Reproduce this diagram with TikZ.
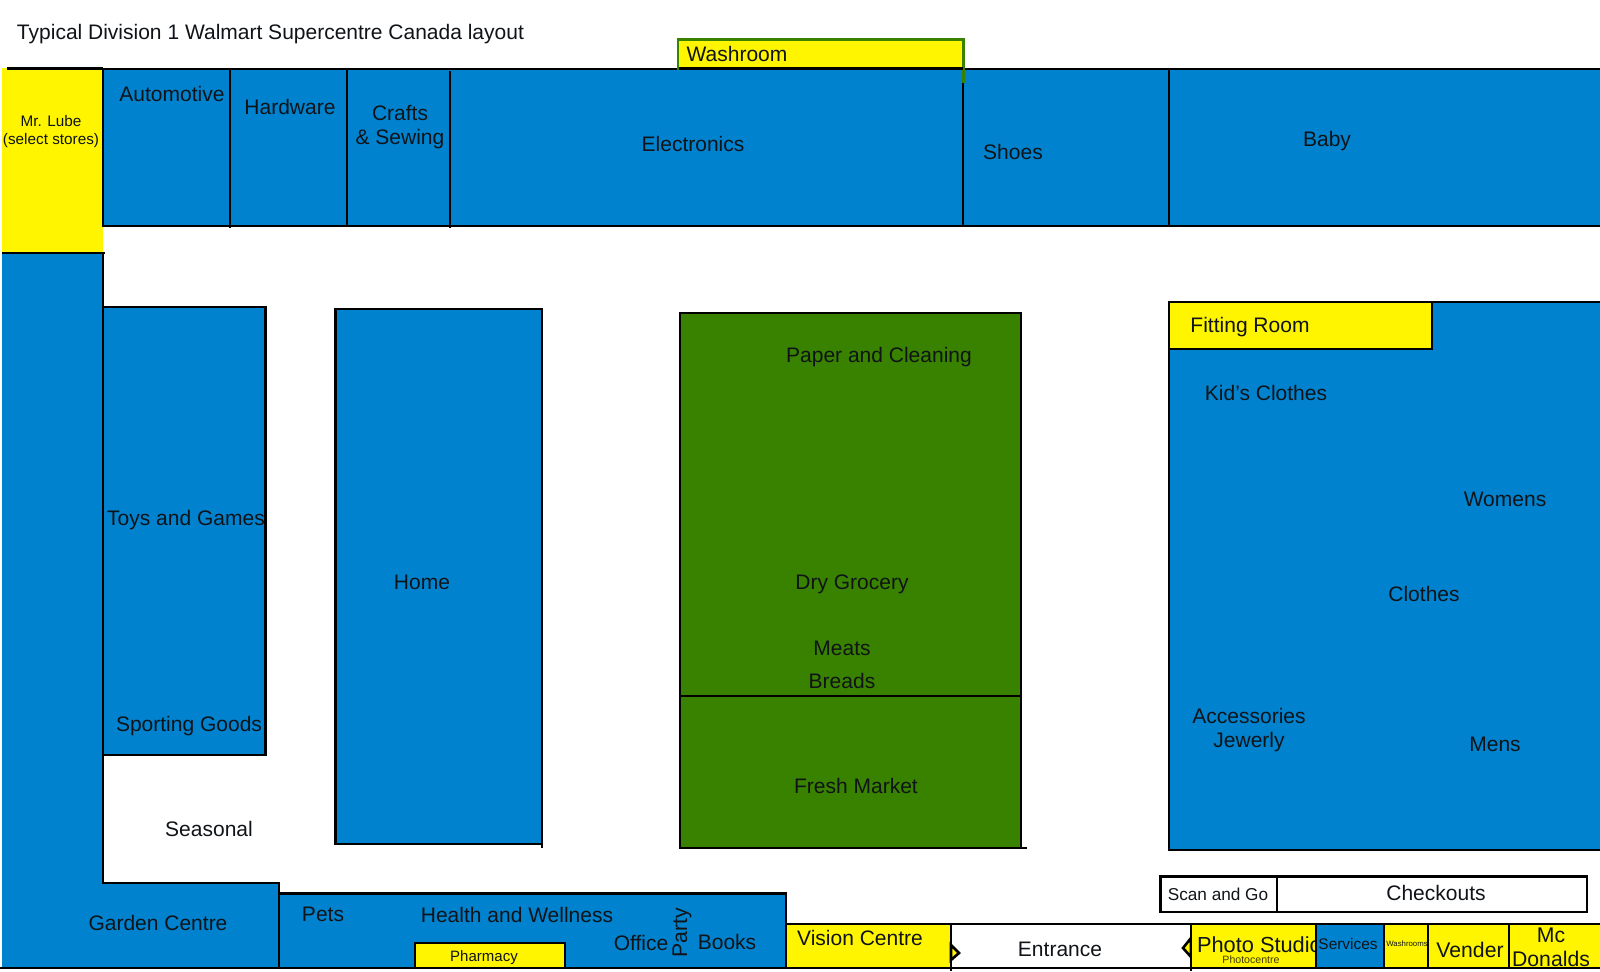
\documentclass[tikz,border=0pt]{standalone}
\usepackage{fontspec}
\setmainfont{Liberation Sans}
\definecolor{wblue}{HTML}{0082CE}
\definecolor{wgreen}{HTML}{388200}
\definecolor{wyellow}{HTML}{FFF500}
\definecolor{winkd}{HTML}{101418}
\tikzset{
  zone/.style={draw=black,line width=1.2pt,miter limit=2},
  bluezone/.style={zone,fill=wblue},
  greenzone/.style={zone,fill=wgreen},
  yellowzone/.style={zone,fill=wyellow},
  whitezone/.style={zone,fill=white},
  rule/.style={draw=black,line width=1.1pt},
  lab/.style={inner sep=0pt,outer sep=0pt,text=winkd,font=\fontsize{10.5}{11.8}\selectfont,align=center},
  labm/.style={lab,font=\fontsize{8.6}{10}\selectfont},
  labsv/.style={lab,font=\fontsize{7.7}{9}\selectfont},
  labs/.style={lab,font=\fontsize{7.5}{9}\selectfont},
  labt/.style={lab,font=\fontsize{5.3}{6}\selectfont},
  labxs/.style={lab,font=\fontsize{3.9}{5}\selectfont},
  labl/.style={lab,font=\fontsize{10.9}{12.4}\selectfont},
  labv/.style={lab,font=\fontsize{10.6}{12}\selectfont}
}
\begin{document}
\begin{tikzpicture}[x=0.5pt,y=-0.5pt]
\useasboundingbox (0,0) rectangle (1600,971);
\fill[white] (0,0) rectangle (1600,971);
% left / garden
\fill[wblue] (2,253) rectangle (103,968);
\fill[wblue] (2,883) rectangle (279,968);
\draw[rule] (103,253) -- (103,883) -- (279,883) -- (279,968);
% Mr Lube
\fill[wyellow] (2,68) rectangle (103,253);
\draw[rule] (7,68.5) -- (103,68.5);
\draw[rule] (2,253) -- (105,253);
% top band
\path[bluezone] (103,69) rectangle (1604,226);
\draw[rule] (230,69) -- (230,228);
\draw[rule] (347,69) -- (347,226);
\draw[rule] (450,71) -- (450,228);
\draw[rule] (963,83) -- (963,226);
\draw[rule] (1169,69) -- (1169,226);
% washroom
\fill[wyellow] (678,39.5) rectangle (963.5,68);
\draw[draw=wgreen,line width=1.1pt] (678,70) -- (678,39.5) -- (963.5,39.5) -- (963.5,83);
\draw[rule] (679,68.5) -- (962.5,68.5);
% blocks
\path[bluezone] (103,307) rectangle (265.5,755);
\path[bluezone] (335.5,309) rectangle (542,844);
\draw[rule] (542,844) -- (542,848);
\path[greenzone] (680,313) rectangle (1021,848);
\draw[rule] (1021,848) -- (1027,848);
\draw[rule] (680,696) -- (1021,696);
\path[bluezone] (1169,302) rectangle (1604,850);
\path[yellowzone] (1169,302) rectangle (1432,349);
% bottom strip
\path[bluezone] (279,893.5) rectangle (786,968);
\path[yellowzone] (415,943) rectangle (565,968);
\path[yellowzone] (786,924) rectangle (951,968);
\path[whitezone] (951,924) -- (1191,924) -- (1191,968) -- (951,968) -- cycle;
\path[draw=black,line width=1.3pt,fill=wyellow] (951,945) -- (959,953) -- (951,960) -- cycle;
\path[draw=black,line width=1.3pt,fill=wyellow] (1191,938) -- (1183,948) -- (1191,957) -- cycle;
\path[yellowzone] (1191,924) rectangle (1316,968);
\node[labl,anchor=west] (photo) at (1197,945) {Photo Studio};
\node[labt,text=black!75!wyellow] (photocentre) at (1251,960) {Photocentre};
\path[bluezone] (1316,924) rectangle (1384,968);
\path[yellowzone] (1384,924) rectangle (1428,968);
\path[yellowzone] (1428,924) rectangle (1509,968);
\path[yellowzone] (1509,924) rectangle (1604,968);
\draw[rule] (0,968) -- (1604,968);
\draw[rule] (951,968) -- (951,971);
\draw[rule] (1191,968) -- (1191,971);
% checkouts
\path[whitezone] (1160.5,876.5) rectangle (1277,912);
\path[whitezone] (1277,876.5) rectangle (1587,912);
% labels
\node[lab,anchor=west] (title) at (17,34) {Typical Division 1 Walmart Supercentre Canada layout};
\node[lab] (washroom) at (737,54) {Washroom};
\node[labs,font=\fontsize{7.65}{9}\selectfont] (lube) at (51,132) {Mr. Lube\\(select stores)};
\node[lab] (automotive) at (172,94) {Automotive};
\node[lab] (hardware) at (290,107) {Hardware};
\node[lab] (crafts) at (400,127) {Crafts\\\& Sewing};
\node[lab] (electronics) at (693,144) {Electronics};
\node[lab] (shoes) at (1013,152) {Shoes};
\node[lab] (baby) at (1327,141) {Baby};
\node[lab] (toys) at (186,520) {Toys and Games};
\node[lab] (sporting) at (189,726) {Sporting Goods};
\node[lab] (seasonal) at (209,829) {Seasonal};
\node[lab] (home) at (422,582) {Home};
\node[lab] (paper) at (879,357) {Paper and Cleaning};
\node[lab] (dry) at (852,584) {Dry Grocery};
\node[lab] (meats) at (842,648) {Meats};
\node[lab] (breads) at (842,681) {Breads};
\node[lab] (fresh) at (856,786) {Fresh Market};
\node[lab] (fitting) at (1250,327) {Fitting Room};
\node[lab] (kids) at (1266,393) {Kid's Clothes};
\node[lab] (womens) at (1505,499) {Womens};
\node[lab] (clothes) at (1424,594) {Clothes};
\node[lab] (accessories) at (1249,730) {Accessories\\Jewerly};
\node[lab] (mens) at (1495,744) {Mens};
\node[labm] (scan) at (1218,894) {Scan and Go};
\node[lab] (checkouts) at (1436,893) {Checkouts};
\node[lab] (garden) at (158,923) {Garden Centre};
\node[lab] (pets) at (323,914) {Pets};
\node[lab] (health) at (517,915) {Health and Wellness};
\node[lab] (office) at (641,943) {Office};
\node[lab,rotate=90,font=\fontsize{10.6}{12}\selectfont] (party) at (682,933) {Party};
\node[lab] (books) at (727,942) {Books};
\node[labs] (pharmacy) at (484,958) {Pharmacy};
\node[lab] (vision) at (860,938) {Vision Centre};
\node[lab] (entrance) at (1060,949) {Entrance};
\node[labsv] (services) at (1348,944) {Services};
\node[labxs] (washrooms) at (1407,944) {Washrooms};
\node[labv] (vender) at (1470,950) {Vender};
\node[labv] (mcd) at (1551,947) {Mc\\Donalds};
\end{tikzpicture}
\end{document}
